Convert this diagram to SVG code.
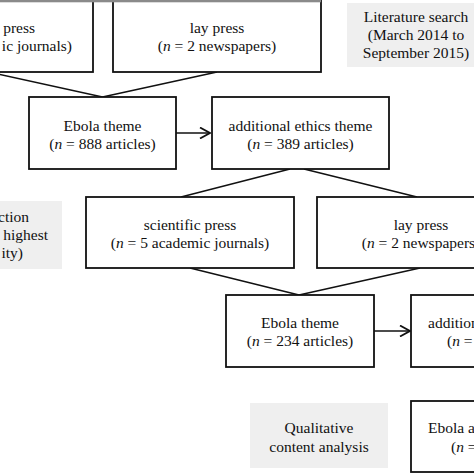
<svg xmlns="http://www.w3.org/2000/svg" width="474" height="474" viewBox="0 0 474 474">
<defs>
<style>
.box{fill:#fff;stroke:#111;stroke-width:1.8}
.note{fill:#efefef;stroke:none}
.t{font-family:"Liberation Serif","Times New Roman",serif;font-size:15.5px;fill:#111}
.c{text-anchor:middle}
.e{text-anchor:end}
.s{text-anchor:start}
.i{font-style:italic}
.ln{stroke:#111;stroke-width:1.5;fill:none}
</style>
<marker id="arr" viewBox="0 0 12 12" refX="11" refY="6" markerWidth="12" markerHeight="12" markerUnits="userSpaceOnUse" orient="auto">
<path d="M1,0.5 L11,6 L1,11.5" fill="none" stroke="#111" stroke-width="1.8"/>
</marker>
</defs>
<rect width="474" height="474" fill="#fff"/>

<g id="connectors">
<line class="ln" x1="-11" y1="72" x2="102.5" y2="97"/>
<line class="ln" x1="217" y1="72" x2="102.5" y2="97"/>
<line class="ln" x1="176" y1="133" x2="210" y2="133" marker-end="url(#arr)"/>
<line class="ln" x1="290" y1="169" x2="181" y2="197"/>
<line class="ln" x1="304" y1="169" x2="417" y2="197"/>
<line class="ln" x1="190" y1="268" x2="299" y2="295"/>
<line class="ln" x1="420" y1="268" x2="299" y2="295"/>
<line class="ln" x1="374" y1="331" x2="410" y2="331" marker-end="url(#arr)"/>
</g>

<g id="sci1">
<rect class="box" x="-115" y="-5" width="208" height="77"/>
<text class="t e" x="35" y="33">press</text>
<text class="t e" x="72" y="51">ic journals)</text>
</g>
<g id="lay1">
<rect class="box" x="113" y="-5" width="208" height="77"/>
<text class="t c" x="217" y="33">lay press</text>
<text class="t c" x="217" y="51">(<tspan class="i">n</tspan> = 2 newspapers)</text>
</g>
<rect x="0" y="0" width="321" height="2.3" fill="#8a8a8a"/>

<g id="lit">
<rect class="note" x="347" y="3" width="140" height="64"/>
<text class="t c" x="416" y="22">Literature search</text>
<text class="t c" x="416" y="40">(March 2014 to</text>
<text class="t c" x="416" y="58">September 2015)</text>
</g>

<g id="ebola1">
<rect class="box" x="29" y="97" width="147" height="72"/>
<text class="t c" x="102.5" y="131">Ebola theme</text>
<text class="t c" x="102.5" y="149">(<tspan class="i">n</tspan> = 888 articles)</text>
</g>
<g id="ethics1">
<rect class="box" x="212" y="97" width="177" height="72"/>
<text class="t c" x="300.5" y="131">additional ethics theme</text>
<text class="t c" x="300.5" y="149">(<tspan class="i">n</tspan> = 389 articles)</text>
</g>

<g id="selection">
<rect class="note" x="-80" y="201" width="142" height="68"/>
<text class="t e" x="29" y="222">ction</text>
<text class="t e" x="48" y="240">highest</text>
<text class="t e" x="23" y="258">ity)</text>
</g>

<g id="sci2">
<rect class="box" x="86" y="197" width="208" height="71"/>
<text class="t c" x="190" y="230">scientific press</text>
<text class="t c" x="190" y="248">(<tspan class="i">n</tspan> = 5 academic journals)</text>
</g>
<g id="lay2">
<rect class="box" x="317" y="197" width="208" height="71"/>
<text class="t c" x="421" y="230">lay press</text>
<text class="t c" x="421" y="248">(<tspan class="i">n</tspan> = 2 newspapers)</text>
</g>

<g id="ebola2">
<rect class="box" x="226" y="295" width="148" height="72"/>
<text class="t c" x="300" y="328">Ebola theme</text>
<text class="t c" x="300" y="346">(<tspan class="i">n</tspan> = 234 articles)</text>
</g>
<g id="ethics2">
<rect class="box" x="411" y="295" width="190" height="72"/>
<text class="t s" x="428" y="328">addition</text>
<text class="t s" x="447" y="346">(<tspan class="i">n</tspan> =</text>
</g>

<g id="qual">
<rect class="note" x="250" y="403" width="138" height="65"/>
<text class="t c" x="319" y="433">Qualitative</text>
<text class="t c" x="319" y="452">content analysis</text>
</g>
<g id="final">
<rect class="box" x="411" y="401" width="190" height="71"/>
<text class="t s" x="428" y="433">Ebola a</text>
<text class="t s" x="451" y="452">(<tspan class="i">n</tspan> =</text>
</g>
</svg>
